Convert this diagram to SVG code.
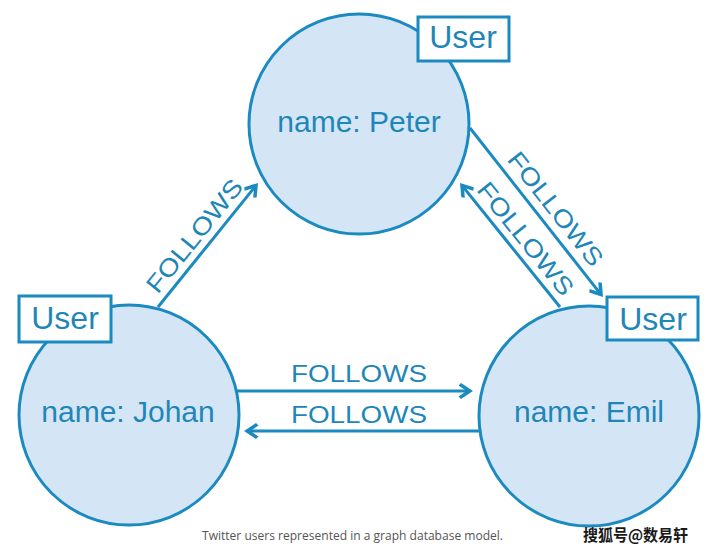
<svg xmlns="http://www.w3.org/2000/svg" width="720" height="551" viewBox="0 0 720 551">
<style>
.node{fill:#d4e6f5;stroke:#1b8ac0;stroke-width:3}
.lbl{fill:#fff;stroke:#1b8ac0;stroke-width:3}
.t{font-family:"Liberation Sans",Arial,sans-serif;fill:#1f86b8;text-anchor:middle}
.name{font-size:30px}
.user{font-size:32px}
.rel{font-size:24.5px}
.edge{stroke:#1b8ac0;stroke-width:3;fill:none;marker-end:url(#ah)}
</style>
<defs>
<marker id="ah" markerUnits="userSpaceOnUse" viewBox="-16 -10 20 20" refX="-4" refY="0" markerWidth="20" markerHeight="20" orient="auto">
<path d="M0,0 L-12,-8 L-14.5,-5.5 L-6.5,0 L-14.5,5.5 L-12,8 Z" fill="#1b8ac0"/>
</marker>
</defs>
<rect width="720" height="551" fill="#fff"/>
<g id="connectors">
<line class="edge" x1="158" y1="307" x2="255.5" y2="186.1"/>
<line class="edge" x1="470" y1="128" x2="600.5" y2="293.9"/>
<line class="edge" x1="560" y1="307" x2="462.5" y2="186.1"/>
<line class="edge" x1="237" y1="391" x2="469" y2="391"/>
<line class="edge" x1="480" y1="431" x2="248" y2="431"/>
<text class="t rel" textLength="138" lengthAdjust="spacingAndGlyphs" transform="translate(201,241) rotate(-51.1)">FOLLOWS</text>
<text class="t rel" textLength="138" lengthAdjust="spacingAndGlyphs" transform="translate(549,214) rotate(51.8)">FOLLOWS</text>
<text class="t rel" textLength="138" lengthAdjust="spacingAndGlyphs" transform="translate(519,244) rotate(51.1)">FOLLOWS</text>
<text class="t rel" x="359" y="382" textLength="136" lengthAdjust="spacingAndGlyphs">FOLLOWS</text>
<text class="t rel" x="359" y="423" textLength="136" lengthAdjust="spacingAndGlyphs">FOLLOWS</text>
</g>
<g id="peter">
<circle class="node" cx="359" cy="124" r="110"/>
<text class="t name" x="359" y="132">name: Peter</text>
<rect class="lbl" x="418" y="17" width="91" height="44"/>
<text class="t user" x="463" y="48">User</text>
</g>
<g id="johan">
<circle class="node" cx="129" cy="415" r="110"/>
<text class="t name" x="128" y="422">name: Johan</text>
<rect class="lbl" x="19" y="296" width="92" height="46"/>
<text class="t user" x="65" y="329">User</text>
</g>
<g id="emil">
<circle class="node" cx="589" cy="416" r="110"/>
<text class="t name" x="589" y="422">name: Emil</text>
<rect class="lbl" x="607" y="297" width="91" height="43"/>
<text class="t user" x="653" y="330">User</text>
</g>
<g id="caption">
<text x="202" y="540" font-family="'Open Sans',sans-serif" font-size="12.5" fill="#555" textLength="301" lengthAdjust="spacingAndGlyphs">Twitter users represented in a graph database model.</text>
<text x="583" y="541" font-family="'Noto Sans CJK SC',sans-serif" font-weight="bold" font-size="16" fill="#1a1a1a" textLength="105" lengthAdjust="spacingAndGlyphs">搜狐号@数易轩</text>
</g>
</svg>
